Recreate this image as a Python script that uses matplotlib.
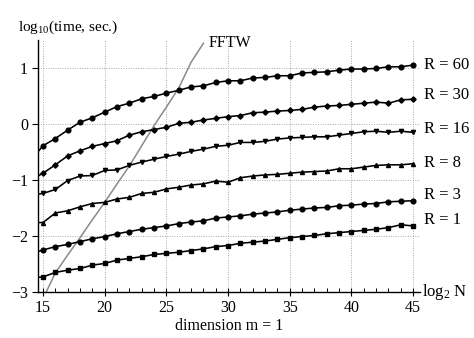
import numpy as np
import matplotlib
matplotlib.use('Agg')
import matplotlib.pyplot as plt
from matplotlib.ticker import MultipleLocator

plt.rcParams['font.family'] = ['Liberation Serif', 'DejaVu Serif']
plt.rcParams['mathtext.fontset'] = 'custom'
plt.rcParams['mathtext.rm'] = 'Liberation Serif'
plt.rcParams['mathtext.it'] = 'Liberation Serif:italic'

# log2 N, от 14 (за краем оси) до 45
log2n = np.arange(14, 46)

r60 = [-0.65, -0.39, -0.26, -0.11, 0.03, 0.11, 0.21, 0.31, 0.37, 0.45, 0.49, 0.55,
       0.60, 0.66, 0.68, 0.74, 0.77, 0.77, 0.82, 0.83, 0.86, 0.86, 0.91, 0.92,
       0.93, 0.96, 0.98, 0.98, 0.99, 1.02, 1.02, 1.05]
r30 = [-1.00, -0.88, -0.73, -0.57, -0.48, -0.40, -0.35, -0.30, -0.20, -0.14, -0.10, -0.06,
       0.01, 0.03, 0.07, 0.10, 0.13, 0.15, 0.20, 0.21, 0.23, 0.24, 0.26, 0.30,
       0.32, 0.33, 0.35, 0.37, 0.39, 0.37, 0.43, 0.44]
r16 = [-1.27, -1.24, -1.17, -1.01, -0.93, -0.92, -0.83, -0.82, -0.74, -0.68, -0.63, -0.58,
       -0.54, -0.49, -0.45, -0.40, -0.38, -0.33, -0.33, -0.31, -0.27, -0.25, -0.24, -0.23,
       -0.23, -0.20, -0.17, -0.14, -0.13, -0.15, -0.13, -0.15]
r8 = [-1.76, -1.76, -1.59, -1.55, -1.48, -1.42, -1.40, -1.34, -1.31, -1.24, -1.22, -1.16,
      -1.13, -1.09, -1.07, -1.02, -1.04, -0.96, -0.93, -0.91, -0.90, -0.88, -0.86, -0.85,
      -0.84, -0.80, -0.80, -0.77, -0.74, -0.73, -0.73, -0.71]
r3 = [-2.32, -2.25, -2.19, -2.15, -2.10, -2.05, -2.01, -1.96, -1.92, -1.88, -1.85, -1.82,
      -1.78, -1.75, -1.73, -1.68, -1.66, -1.64, -1.61, -1.59, -1.57, -1.54, -1.52, -1.50,
      -1.49, -1.46, -1.45, -1.43, -1.42, -1.39, -1.38, -1.37]
r1 = [-2.75, -2.73, -2.65, -2.61, -2.58, -2.52, -2.49, -2.43, -2.40, -2.37, -2.33, -2.31,
      -2.29, -2.26, -2.23, -2.19, -2.17, -2.13, -2.11, -2.09, -2.06, -2.03, -2.01, -1.99,
      -1.96, -1.94, -1.92, -1.90, -1.88, -1.85, -1.80, -1.82]

fftw_n = np.arange(15, 29)
fftw = [-3.12, -2.66, -2.34, -2.03, -1.71, -1.40, -1.07, -0.75, -0.39, -0.03,
        0.30, 0.64, 1.10, 1.44]

series = [r60, r30, r16, r8, r3, r1]
names = ['R = 60', 'R = 30', 'R = 16', 'R = 8', 'R = 3', 'R = 1']
markers = ['o', 'D', 'v', '^', 'o', 's']
msizes = [3.4, 2.7, 3.0, 2.9, 3.4, 3.4]
label_dy = [0, 4, 3, 1, 6, 6]  # сдвиг подписей R = ... в пикселях

fig = plt.figure(figsize=(4.74, 3.38), dpi=100)
ax = fig.add_axes([0.0795, 0.136, 0.8065, 0.746])

ax.plot(fftw_n, fftw, color='#8a8a8a', lw=1.1, zorder=2)

for y, nm, mk, ms, dy in zip(series, names, markers, msizes, label_dy):
    ax.plot(log2n, y, color='black', lw=1.15, marker=mk, ms=ms,
            mec='black', mfc='black', zorder=3)
    ax.annotate(nm, xy=(log2n[-1], y[-1]), xytext=(8, dy * 0.72),
                textcoords='offset points', va='center', ha='left',
                fontsize=12, annotation_clip=False)

ax.set_xlim(14.57, 45.55)
ax.set_ylim(-3, 1.5)

ax.xaxis.set_major_locator(MultipleLocator(5))
ax.xaxis.set_minor_locator(MultipleLocator(1))
ax.set_yticks([-3, -2, -1, 0, 1])
ax.set_yticklabels(['\u22123', '\u22122', '\u22121', '0', '1'])

ax.grid(True, which='major', color='#a8a8a8', linestyle=(0, (1, 1.5)), lw=0.7)

for s in ['top', 'right']:
    ax.spines[s].set_visible(False)
ax.spines['left'].set_linewidth(1.0)
ax.spines['bottom'].set_linewidth(1.0)

ax.tick_params(axis='both', which='major', labelsize=11.5, length=4, width=0.8,
               direction='out', pad=3)
ax.tick_params(axis='x', which='major', direction='inout', length=6)
ax.tick_params(axis='x', which='minor', direction='in', length=3, width=0.7)

ax.set_xlabel('dimension m = 1', fontsize=11.5, labelpad=1.5)

fig.text(18 / 474, 1 - 27 / 338, r'log$_{10}$(time, sec.)', fontsize=11,
         va='center', ha='left')
ax.text(28.45, 1.44, 'FFTW', fontsize=11.5, va='center', ha='left')
ax.text(45.75, -3, r'log$_2$ N', fontsize=12, va='center', ha='left', clip_on=False)

fig.savefig('out.png', dpi=100)
